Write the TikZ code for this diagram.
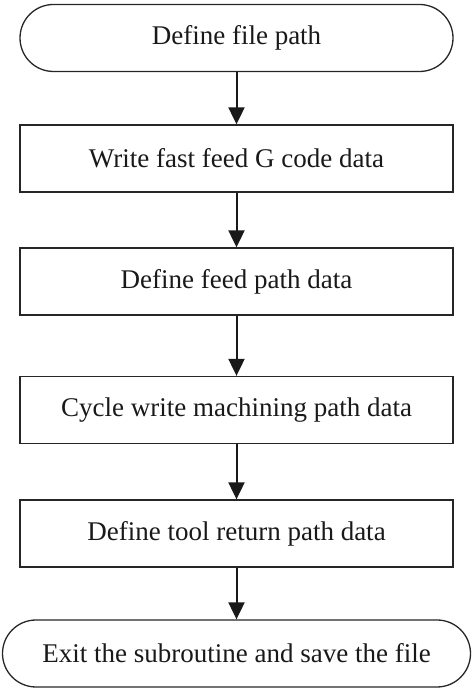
\documentclass[tikz,border=0pt]{standalone}
\usepackage{fontspec}
\setmainfont{Liberation Serif}
\usetikzlibrary{arrows.meta}
\begin{document}
\begin{tikzpicture}[x=1pt,y=1pt,
  base/.style={draw=black!85, line width=1.3pt, inner sep=0pt, font=\fontsize{27}{32}\selectfont, text=black!90},
  procbox/.style={base, rectangle, minimum width=433pt, minimum height=67pt},
  termbox/.style={base, rectangle, rounded corners=33.5pt, minimum height=67pt},
  flow/.style={draw=black!90, line width=2pt, -{Triangle[length=17pt,width=16pt]}}]
\useasboundingbox (0,0) rectangle (474,692);
\node[termbox, minimum width=433pt] (t1) at (236.5,654) {Define file path};
\node[procbox] (b2) at (236.5,533.5) {Write fast feed G code data};
\node[procbox] (b3) at (236.5,410.5) {Define feed path data};
\node[procbox] (b4) at (236.5,282) {Cycle write machining path data};
\node[procbox] (b5) at (236.5,158.5) {Define tool return path data};
\node[termbox, minimum width=468pt] (t6) at (236.5,38.5) {Exit the subroutine and save the file};
\draw[flow] (t1) -- (b2);
\draw[flow] (b2) -- (b3);
\draw[flow] (b3) -- (b4);
\draw[flow] (b4) -- (b5);
\draw[flow] (b5) -- (t6);
\end{tikzpicture}
\end{document}
